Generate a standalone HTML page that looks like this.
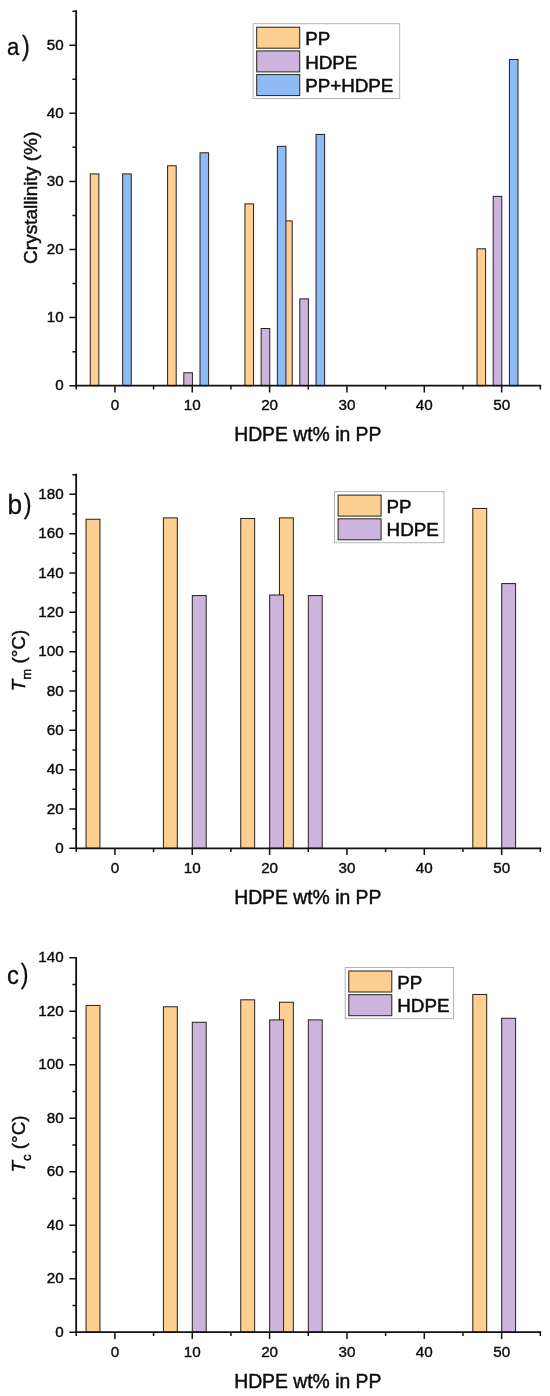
<!DOCTYPE html>
<html><head><meta charset="utf-8"><title>Figure</title>
<style>
html,body{margin:0;padding:0;background:#fff;}
svg{display:block;}
text{font-family:"Liberation Sans",Arial,sans-serif;fill:#0c0c0c;stroke:#0c0c0c;stroke-width:0.3px;}
.tk{font-size:15.2px;stroke-width:0.4px;}
.tt{font-size:19.4px;stroke-width:0.45px;}
.lg{font-size:18.8px;stroke-width:0.5px;}
.lt{font-size:27px;}
</style></head><body>
<svg width="550" height="1396" viewBox="0 0 550 1396">
<rect width="550" height="1396" fill="#fff"/>
<rect x="90.25" y="173.91" width="8.60" height="211.79" fill="#FDCF91" stroke="#262019" stroke-width="1.0"/>
<rect x="167.60" y="165.74" width="8.60" height="219.96" fill="#FDCF91" stroke="#262019" stroke-width="1.0"/>
<rect x="244.95" y="203.87" width="8.60" height="181.83" fill="#FDCF91" stroke="#262019" stroke-width="1.0"/>
<rect x="283.62" y="220.90" width="8.60" height="164.80" fill="#FDCF91" stroke="#262019" stroke-width="1.0"/>
<rect x="477.00" y="248.82" width="8.60" height="136.88" fill="#FDCF91" stroke="#262019" stroke-width="1.0"/>
<rect x="183.80" y="372.76" width="8.60" height="12.94" fill="#CDB4DC" stroke="#262019" stroke-width="1.0"/>
<rect x="261.15" y="328.50" width="8.60" height="57.20" fill="#CDB4DC" stroke="#262019" stroke-width="1.0"/>
<rect x="299.82" y="298.87" width="8.60" height="86.83" fill="#CDB4DC" stroke="#262019" stroke-width="1.0"/>
<rect x="493.20" y="196.38" width="8.60" height="189.32" fill="#CDB4DC" stroke="#262019" stroke-width="1.0"/>
<rect x="122.65" y="173.91" width="8.60" height="211.79" fill="#8EBBF6" stroke="#262019" stroke-width="1.0"/>
<rect x="200.00" y="152.80" width="8.60" height="232.90" fill="#8EBBF6" stroke="#262019" stroke-width="1.0"/>
<rect x="277.35" y="146.33" width="8.60" height="239.37" fill="#8EBBF6" stroke="#262019" stroke-width="1.0"/>
<rect x="316.02" y="134.41" width="8.60" height="251.29" fill="#8EBBF6" stroke="#262019" stroke-width="1.0"/>
<rect x="509.40" y="59.50" width="8.60" height="326.20" fill="#8EBBF6" stroke="#262019" stroke-width="1.0"/>
<path d="M76.15 10.25V386.60M75.25 385.70H541.23" stroke="#111" stroke-width="1.8" fill="none"/>
<text x="63.7" y="390.30" text-anchor="end" class="tk">0</text>
<text x="63.7" y="322.20" text-anchor="end" class="tk">10</text>
<text x="63.7" y="254.10" text-anchor="end" class="tk">20</text>
<text x="63.7" y="186.00" text-anchor="end" class="tk">30</text>
<text x="63.7" y="117.90" text-anchor="end" class="tk">40</text>
<text x="63.7" y="49.80" text-anchor="end" class="tk">50</text>
<text x="114.90" y="410.30" text-anchor="middle" class="tk">0</text>
<text x="192.25" y="410.30" text-anchor="middle" class="tk">10</text>
<text x="269.60" y="410.30" text-anchor="middle" class="tk">20</text>
<text x="346.95" y="410.30" text-anchor="middle" class="tk">30</text>
<text x="424.30" y="410.30" text-anchor="middle" class="tk">40</text>
<text x="501.65" y="410.30" text-anchor="middle" class="tk">50</text>
<path d="M76.15 385.70h-6.8M76.15 351.65h-3.7M76.15 317.60h-6.8M76.15 283.55h-3.7M76.15 249.50h-6.8M76.15 215.45h-3.7M76.15 181.40h-6.8M76.15 147.35h-3.7M76.15 113.30h-6.8M76.15 79.25h-3.7M76.15 45.20h-6.8M76.15 11.15h-3.7M76.22 385.70v3.7M114.90 385.70v6.8M153.58 385.70v3.7M192.25 385.70v6.8M230.93 385.70v3.7M269.60 385.70v6.8M308.27 385.70v3.7M346.95 385.70v6.8M385.62 385.70v3.7M424.30 385.70v6.8M462.98 385.70v3.7M501.65 385.70v6.8M540.33 385.70v3.7" stroke="#111" stroke-width="1.5" fill="none"/>
<text x="307.8" y="441.00" text-anchor="middle" class="tt" style="font-size:19.35px">HDPE wt% in PP</text>
<text transform="translate(37.4 197.8) rotate(-90)" text-anchor="middle" class="tt" style="font-size:19.05px">Crystallinity (%)</text>
<text x="6.9" y="55.4" font-size="24.7px" stroke-width="0.5" textLength="12.3" lengthAdjust="spacingAndGlyphs">a</text>
<text x="22.0" y="54.7" font-size="27.6px" stroke-width="0.5" textLength="7.8" lengthAdjust="spacingAndGlyphs">)</text>
<rect x="253.1" y="23.7" width="146.6" height="74.8" fill="#fff" stroke="#b4b4b4" stroke-width="1"/>
<rect x="256.7" y="27.20" width="43" height="21" fill="#FDCF91" stroke="#262019" stroke-width="1.0"/>
<text x="305.20" y="44.80" class="lg">PP</text>
<rect x="256.7" y="50.90" width="43" height="21" fill="#CDB4DC" stroke="#262019" stroke-width="1.0"/>
<text x="305.20" y="68.50" class="lg">HDPE</text>
<rect x="256.7" y="74.60" width="43" height="21" fill="#8EBBF6" stroke="#262019" stroke-width="1.0"/>
<text x="305.20" y="92.20" class="lg">PP+HDPE</text>
<rect x="86.05" y="519.27" width="13.90" height="329.03" fill="#FDCF91" stroke="#262019" stroke-width="1.0"/>
<rect x="163.40" y="517.89" width="13.90" height="330.41" fill="#FDCF91" stroke="#262019" stroke-width="1.0"/>
<rect x="240.75" y="518.48" width="13.90" height="329.82" fill="#FDCF91" stroke="#262019" stroke-width="1.0"/>
<rect x="279.43" y="517.89" width="13.90" height="330.41" fill="#FDCF91" stroke="#262019" stroke-width="1.0"/>
<rect x="472.80" y="508.45" width="13.90" height="339.85" fill="#FDCF91" stroke="#262019" stroke-width="1.0"/>
<rect x="192.30" y="595.58" width="13.90" height="252.72" fill="#CDB4DC" stroke="#262019" stroke-width="1.0"/>
<rect x="269.65" y="594.99" width="13.90" height="253.31" fill="#CDB4DC" stroke="#262019" stroke-width="1.0"/>
<rect x="308.32" y="595.58" width="13.90" height="252.72" fill="#CDB4DC" stroke="#262019" stroke-width="1.0"/>
<rect x="501.70" y="583.58" width="13.90" height="264.72" fill="#CDB4DC" stroke="#262019" stroke-width="1.0"/>
<path d="M76.15 473.73V849.20M75.25 848.30H541.23" stroke="#111" stroke-width="1.8" fill="none"/>
<text x="63.7" y="852.90" text-anchor="end" class="tk">0</text>
<text x="63.7" y="813.57" text-anchor="end" class="tk">20</text>
<text x="63.7" y="774.23" text-anchor="end" class="tk">40</text>
<text x="63.7" y="734.90" text-anchor="end" class="tk">60</text>
<text x="63.7" y="695.56" text-anchor="end" class="tk">80</text>
<text x="63.7" y="656.23" text-anchor="end" class="tk">100</text>
<text x="63.7" y="616.90" text-anchor="end" class="tk">120</text>
<text x="63.7" y="577.56" text-anchor="end" class="tk">140</text>
<text x="63.7" y="538.23" text-anchor="end" class="tk">160</text>
<text x="63.7" y="498.89" text-anchor="end" class="tk">180</text>
<text x="114.90" y="872.90" text-anchor="middle" class="tk">0</text>
<text x="192.25" y="872.90" text-anchor="middle" class="tk">10</text>
<text x="269.60" y="872.90" text-anchor="middle" class="tk">20</text>
<text x="346.95" y="872.90" text-anchor="middle" class="tk">30</text>
<text x="424.30" y="872.90" text-anchor="middle" class="tk">40</text>
<text x="501.65" y="872.90" text-anchor="middle" class="tk">50</text>
<path d="M76.15 848.30h-6.8M76.15 828.63h-3.7M76.15 808.97h-6.8M76.15 789.30h-3.7M76.15 769.63h-6.8M76.15 749.96h-3.7M76.15 730.30h-6.8M76.15 710.63h-3.7M76.15 690.96h-6.8M76.15 671.30h-3.7M76.15 651.63h-6.8M76.15 631.96h-3.7M76.15 612.30h-6.8M76.15 592.63h-3.7M76.15 572.96h-6.8M76.15 553.29h-3.7M76.15 533.63h-6.8M76.15 513.96h-3.7M76.15 494.29h-6.8M76.15 474.63h-3.7M76.22 848.30v3.7M114.90 848.30v6.8M153.58 848.30v3.7M192.25 848.30v6.8M230.93 848.30v3.7M269.60 848.30v6.8M308.27 848.30v3.7M346.95 848.30v6.8M385.62 848.30v3.7M424.30 848.30v6.8M462.98 848.30v3.7M501.65 848.30v6.8M540.33 848.30v3.7" stroke="#111" stroke-width="1.5" fill="none"/>
<text x="307.8" y="903.60" text-anchor="middle" class="tt" style="font-size:19.35px">HDPE wt% in PP</text>
<text transform="translate(25 660.5) rotate(-90)" text-anchor="middle" class="tt" style="font-size:18.9px"><tspan font-style="italic">T</tspan><tspan dy="5.8" font-size="13.2px">m</tspan><tspan dy="-5.8"> (°C)</tspan></text>
<text x="7.6" y="514.0" font-size="27.0px" stroke-width="0.5" textLength="14.6" lengthAdjust="spacingAndGlyphs">b</text>
<text x="23.7" y="513.3" font-size="27.6px" stroke-width="0.5" textLength="7.8" lengthAdjust="spacingAndGlyphs">)</text>
<rect x="334.5" y="491.6" width="109.5" height="51.1" fill="#fff" stroke="#b4b4b4" stroke-width="1"/>
<rect x="338.1" y="495.10" width="43" height="21" fill="#FDCF91" stroke="#262019" stroke-width="1.0"/>
<text x="386.60" y="512.70" class="lg">PP</text>
<rect x="338.1" y="518.80" width="43" height="21" fill="#CDB4DC" stroke="#262019" stroke-width="1.0"/>
<text x="386.60" y="536.40" class="lg">HDPE</text>
<rect x="86.05" y="1005.44" width="13.90" height="326.76" fill="#FDCF91" stroke="#262019" stroke-width="1.0"/>
<rect x="163.40" y="1006.77" width="13.90" height="325.43" fill="#FDCF91" stroke="#262019" stroke-width="1.0"/>
<rect x="240.75" y="999.82" width="13.90" height="332.38" fill="#FDCF91" stroke="#262019" stroke-width="1.0"/>
<rect x="279.43" y="1002.23" width="13.90" height="329.97" fill="#FDCF91" stroke="#262019" stroke-width="1.0"/>
<rect x="472.80" y="994.47" width="13.90" height="337.73" fill="#FDCF91" stroke="#262019" stroke-width="1.0"/>
<rect x="192.30" y="1022.28" width="13.90" height="309.92" fill="#CDB4DC" stroke="#262019" stroke-width="1.0"/>
<rect x="269.65" y="1019.88" width="13.90" height="312.32" fill="#CDB4DC" stroke="#262019" stroke-width="1.0"/>
<rect x="308.32" y="1019.88" width="13.90" height="312.32" fill="#CDB4DC" stroke="#262019" stroke-width="1.0"/>
<rect x="501.70" y="1018.27" width="13.90" height="313.93" fill="#CDB4DC" stroke="#262019" stroke-width="1.0"/>
<path d="M76.15 956.94V1333.10M75.25 1332.20H541.23" stroke="#111" stroke-width="1.8" fill="none"/>
<text x="63.7" y="1336.80" text-anchor="end" class="tk">0</text>
<text x="63.7" y="1283.32" text-anchor="end" class="tk">20</text>
<text x="63.7" y="1229.84" text-anchor="end" class="tk">40</text>
<text x="63.7" y="1176.36" text-anchor="end" class="tk">60</text>
<text x="63.7" y="1122.88" text-anchor="end" class="tk">80</text>
<text x="63.7" y="1069.40" text-anchor="end" class="tk">100</text>
<text x="63.7" y="1015.92" text-anchor="end" class="tk">120</text>
<text x="63.7" y="962.44" text-anchor="end" class="tk">140</text>
<text x="114.90" y="1356.80" text-anchor="middle" class="tk">0</text>
<text x="192.25" y="1356.80" text-anchor="middle" class="tk">10</text>
<text x="269.60" y="1356.80" text-anchor="middle" class="tk">20</text>
<text x="346.95" y="1356.80" text-anchor="middle" class="tk">30</text>
<text x="424.30" y="1356.80" text-anchor="middle" class="tk">40</text>
<text x="501.65" y="1356.80" text-anchor="middle" class="tk">50</text>
<path d="M76.15 1332.20h-6.8M76.15 1305.46h-3.7M76.15 1278.72h-6.8M76.15 1251.98h-3.7M76.15 1225.24h-6.8M76.15 1198.50h-3.7M76.15 1171.76h-6.8M76.15 1145.02h-3.7M76.15 1118.28h-6.8M76.15 1091.54h-3.7M76.15 1064.80h-6.8M76.15 1038.06h-3.7M76.15 1011.32h-6.8M76.15 984.58h-3.7M76.15 957.84h-6.8M76.22 1332.20v3.7M114.90 1332.20v6.8M153.58 1332.20v3.7M192.25 1332.20v6.8M230.93 1332.20v3.7M269.60 1332.20v6.8M308.27 1332.20v3.7M346.95 1332.20v6.8M385.62 1332.20v3.7M424.30 1332.20v6.8M462.98 1332.20v3.7M501.65 1332.20v6.8M540.33 1332.20v3.7" stroke="#111" stroke-width="1.5" fill="none"/>
<text x="307.8" y="1387.50" text-anchor="middle" class="tt" style="font-size:19.35px">HDPE wt% in PP</text>
<text transform="translate(25 1144) rotate(-90)" text-anchor="middle" class="tt" style="font-size:18.9px"><tspan font-style="italic">T</tspan><tspan dy="5.8" font-size="13.2px">c</tspan><tspan dy="-5.8"> (°C)</tspan></text>
<text x="6.9" y="983.7" font-size="26px" stroke-width="0.5" textLength="11.9" lengthAdjust="spacingAndGlyphs">c</text>
<text x="20.7" y="983.1" font-size="27.6px" stroke-width="0.5" textLength="7.8" lengthAdjust="spacingAndGlyphs">)</text>
<rect x="345.2" y="967.5" width="108.3" height="51.1" fill="#fff" stroke="#b4b4b4" stroke-width="1"/>
<rect x="348.8" y="971.00" width="43" height="21" fill="#FDCF91" stroke="#262019" stroke-width="1.0"/>
<text x="397.30" y="988.60" class="lg">PP</text>
<rect x="348.8" y="994.70" width="43" height="21" fill="#CDB4DC" stroke="#262019" stroke-width="1.0"/>
<text x="397.30" y="1012.30" class="lg">HDPE</text>
</svg>
</body></html>
